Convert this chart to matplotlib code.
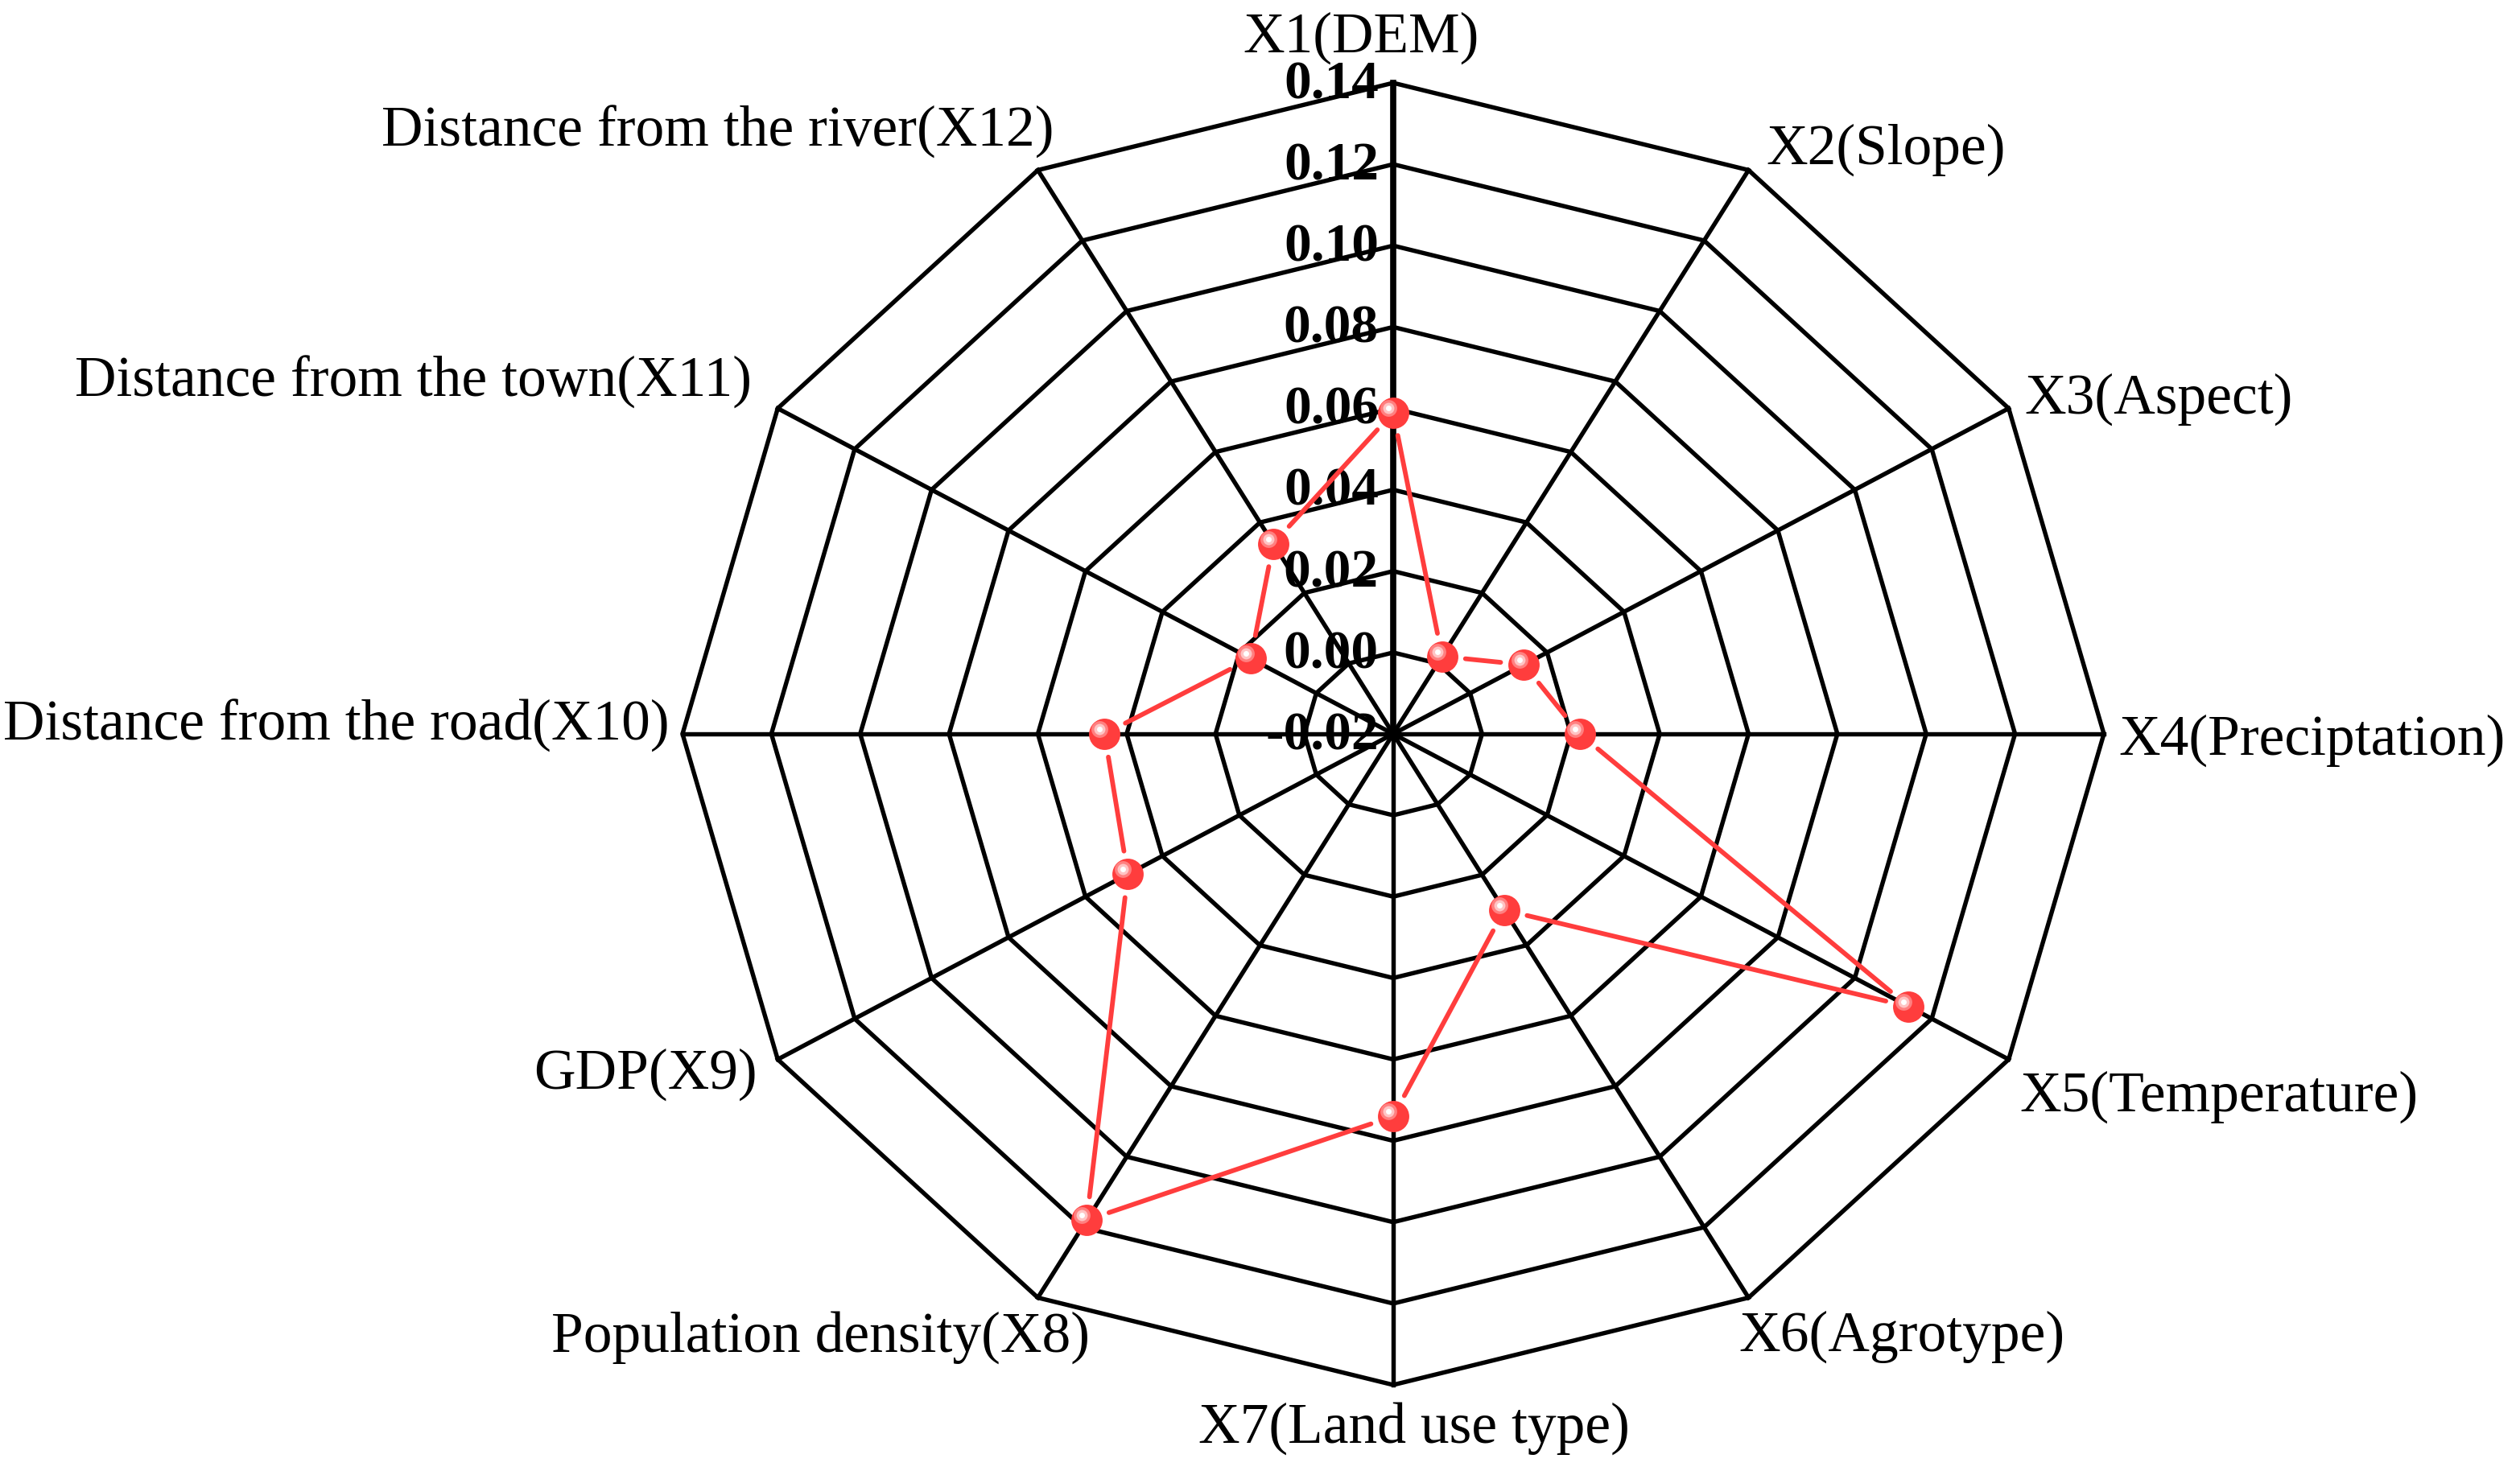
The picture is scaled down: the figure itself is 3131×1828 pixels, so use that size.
import numpy as np
import matplotlib.pyplot as plt
import matplotlib.transforms as mtransforms

plt.rcParams['font.family'] = ['Liberation Serif', 'DejaVu Serif']

# data
labels = ['X1(DEM)', 'X2(Slope)', 'X3(Aspect)', 'X4(Preciptation)', 'X5(Temperature)',
          'X6(Agrotype)', 'X7(Land use type)', 'Population density(X8)', 'GDP(X9)',
          'Distance from the road(X10)', 'Distance from the town(X11)',
          'Distance from the river(X12)']
values = [0.059, 0.002, 0.014, 0.022, 0.114, 0.030, 0.074, 0.118, 0.049, 0.045, 0.017, 0.034]
ticks = [-0.02, 0.00, 0.02, 0.04, 0.06, 0.08, 0.10, 0.12, 0.14]

# label placement (pixel offsets from the outer vertex, y down)
label_ha = ['center', 'left', 'left', 'left', 'left', 'left', 'center',
            'right', 'right', 'right', 'right', 'right']
label_off = [(-40, -56), (22, -25), (20, -11), (18, 8), (14, 47), (-12, 49), (26, 54),
             (64, 49), (-26, 19), (-16, -10), (-32, -33), (20, -47)]

RED = '#ff3d3d'
W, H = 3131, 1828
cx, cy = 1731, 912      # centre of the web in pixels
rx, ry = 883, 809       # outer radius in pixels (original is stretched sideways)

r_min, r_max = ticks[0], ticks[-1]
span = r_max - r_min

fig = plt.figure(figsize=(W / 100, H / 100), dpi=100)
ax = fig.add_axes([0, 0, 1, 1])
ax.set_xlim(-cx / rx * span, (W - cx) / rx * span)
ax.set_ylim(-(H - cy) / ry * span, cy / ry * span)
ax.axis('off')

n = len(labels)
ang = np.arange(n) * 2 * np.pi / n   # clockwise from the top


def to_xy(v, a):
    r = np.asarray(v) - r_min
    return r * np.sin(a), r * np.cos(a)


# web
ring_ang = np.append(ang, ang[0])
for t in ticks[1:]:
    x, y = to_xy(np.full(len(ring_ang), t), ring_ang)
    ax.plot(x, y, color='black', lw=3.9, zorder=1, solid_joinstyle='miter')
for i, a in enumerate(ang):
    x, y = to_xy([r_min, r_max], a)
    ax.plot(x, y, color='black', lw=5.5 if i == 0 else 3.9, zorder=1)

# radial tick labels
for t in ticks:
    ax.annotate(f'{t:.2f}', xy=(0, t - r_min), xytext=(-13, -2), textcoords='offset points',
                ha='right', va='center', fontsize=48.5, fontweight='bold', zorder=0.5)

# axis labels
for i, a in enumerate(ang):
    x, y = to_xy(r_max, a)
    dx, dy = label_off[i]
    ax.annotate(labels[i], xy=(x, y), xytext=(dx * 0.72, -dy * 0.72), textcoords='offset points',
                ha=label_ha[i], va='center', fontsize=51.5)

# data line, segments stop short of the balls
px, py = to_xy(values, ang)
for i in range(n):
    j = (i + 1) % n
    ax.annotate('', xy=(px[j], py[j]), xytext=(px[i], py[i]),
                arrowprops=dict(arrowstyle='-', color=RED, lw=4.2, shrinkA=21, shrinkB=21),
                zorder=4)

# shaded balls
ax.plot(px, py, 'o', ms=28, color=RED, mec='none', zorder=5)
hl = mtransforms.offset_copy(ax.transData, fig=fig, x=-4.3, y=4.3, units='points')
ax.plot(px, py, 'o', ms=15, color='#ff8080', mec='none', transform=hl, zorder=6)
ax.plot(px, py, 'o', ms=10, color='#ffc4c4', mec='none', transform=hl, zorder=7)
ax.plot(px, py, 'o', ms=5, color='white', mec='none', transform=hl, zorder=8)

fig.savefig('out.png', dpi=100, facecolor='white')
